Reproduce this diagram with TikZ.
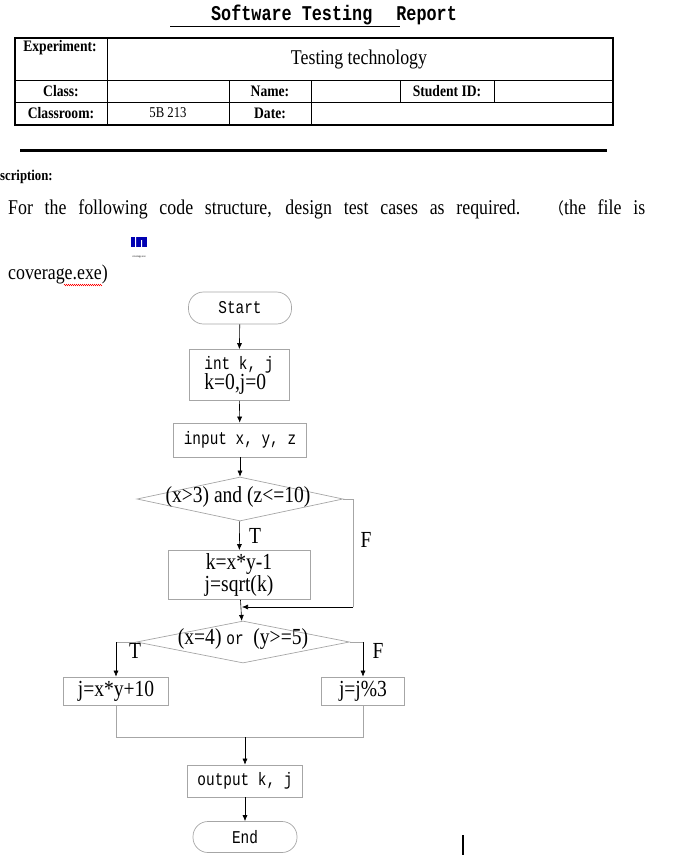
\documentclass[tikz,border=0pt]{standalone}
\usepackage{fontspec}
\setmainfont[FakeStretch=0.85]{Liberation Serif}
\newfontfamily\monof[FakeStretch=0.8]{Liberation Mono}
\newfontfamily\cjk{Noto Sans CJK SC}
\usetikzlibrary{arrows.meta,shapes.geometric,decorations.pathmorphing}
\begin{document}
\begin{tikzpicture}[x=1pt,y=-1pt,
  fl/.style={draw=gray!70,line width=0.7pt},
  box/.style={fl,rectangle,inner sep=0pt},
  con/.style={line width=0.6pt,-{Latex[length=6pt,width=5pt]}},
  ln/.style={line width=0.6pt,gray!70},
  tb/.style={font=\fontsize{16}{17}\selectfont\bfseries},
  ff/.style={font=\fontsize{23}{20}\selectfont},
  mf/.style={font=\monof\fontsize{18}{20}\selectfont}]
\useasboundingbox (0,0) rectangle (681,860);
% title
\node[font=\monof\bfseries\fontsize{21}{21}\selectfont] (title) at (334,15) {Software Testing\hspace{24pt}Report};
\draw[line width=0.8pt] (170,26) -- (400,26);
% table
\draw[line width=1.5pt] (15,38) rectangle (613,125);
\draw[line width=0.7pt] (15,80) -- (613,80) (15,102) -- (613,102) (107,38) -- (107,125)
  (229,80) -- (229,125) (311,80) -- (311,125) (400,80) -- (400,102) (494,80) -- (494,102);
\node[tb] (e) at (60,48) {Experiment:};
\node[font=\fontsize{21}{21}\selectfont] (tt) at (359,59) {Testing technology};
\node[tb] (c1) at (61,91) {Class:};
\node[tb] (c2) at (270,91) {Name:};
\node[tb] (c3) at (447,91) {Student ID:};
\node[tb] (c4) at (61,113) {Classroom:};
\node[font=\fontsize{15}{15}\selectfont] (c5) at (168,113) {5B 213};
\node[tb] (c6) at (270,113) {Date:};
\draw[line width=3pt] (20,150) -- (607,150);
\node[font=\fontsize{15}{15}\selectfont\bfseries,anchor=west,inner sep=0pt] (sc) at (0,177) {scription:};
\node[font=\fontsize{21}{21}\selectfont,anchor=west,inner sep=0pt] (sent) at (8,209)
  {\makebox[637pt][s]{For the following code structure, design test cases as required. {\cjk\fontsize{16}{18}\selectfont （}the file is}};
\fill[blue!70!black] (131,237) rectangle (147,247);
\fill[white] (135,237) rectangle (136,247) (141,240) rectangle (142,247);
\node[font=\fontsize{3}{4}\selectfont,inner sep=0pt] (icn) at (139,257) {coverage.exe};
\node[font=\fontsize{21}{21}\selectfont,anchor=west,inner sep=0pt] (cov) at (8,274) {coverage.exe)};
\draw[red,line width=0.4pt,decorate,decoration={zigzag,amplitude=0.8pt,segment length=2pt}] (64,285) -- (102,285);
% flowchart
\node[box,rounded corners=15pt,minimum width=103pt,minimum height=32pt,mf] (start) at (240,308) {Start};
\node[box,minimum width=100pt,minimum height=51pt,align=left,ff] (b1) at (239,375) {{\monof\fontsize{18}{20}\selectfont int k, j}\\k=0,j=0};
\node[box,minimum width=133pt,minimum height=34pt,mf] (b2) at (240,440) {input x, y, z};
\node[fl,diamond,aspect=4.7,minimum width=206pt,minimum height=44pt,inner sep=0pt] (d1) at (240,499) {};
\node[ff] at (238,497) {(x>3) and (z<=10)};
\node[box,minimum width=142pt,minimum height=49pt,align=center,ff] (b3) at (239,575) {k=x*y-1\\j=sqrt(k)};
\node[fl,diamond,aspect=5,minimum width=213pt,minimum height=42pt,inner sep=0pt] (d2) at (243,642) {};
\node[ff] at (243,639) {(x=4) {\monof\fontsize{18}{20}\selectfont or}\ \ (y>=5)};
\node[box,minimum width=105pt,minimum height=28pt,ff] (b4) at (116,691) {j=x*y+10};
\node[box,minimum width=83pt,minimum height=28pt,ff] (b5) at (363,691) {j=j\%3};
\node[box,minimum width=115pt,minimum height=32pt,mf] (b6) at (245,781) {output k, j};
\node[box,rounded corners=15pt,minimum width=104pt,minimum height=31pt,mf] (end) at (245,837) {End};
\coordinate (fr) at (353,499);
\coordinate (fb) at (353,607);
\coordinate (fj) at (242,607);
\coordinate (tl) at (116,642);
\coordinate (fr2) at (363,642);
\coordinate (m1) at (116,737);
\coordinate (m2) at (363,737);
\coordinate (mm) at (245,737);
\draw[con] (start) -- (b1);
\draw[con] (b1) -- (b2);
\draw[con] (b2) -- (d1);
\draw[con] (d1) -- node[right=6pt,ff]{T} (b3);
\draw[con] (b3) -- (d2);
\draw[ln] (d1.east) -- (fr) -- node[right=4pt,pos=0.38,ff,black]{F} (fb);
\draw[con] (fb) -- (fj);
\draw[ln] (d2.west) -- (tl);
\draw[con] (tl) -- (b4);
\node[ff] (tlab) at (135,651) {T};
\draw[ln] (d2.east) -- (fr2);
\draw[con] (fr2) -- (b5);
\node[ff] (flab) at (378,651) {F};
\draw[ln] (b4) -- (m1) -- (m2) -- (b5);
\draw[con] (mm) -- (b6);
\draw[con] (b6) -- (end);
\draw[line width=1.2pt] (463,835) -- (463,855);
\end{tikzpicture}
\end{document}
